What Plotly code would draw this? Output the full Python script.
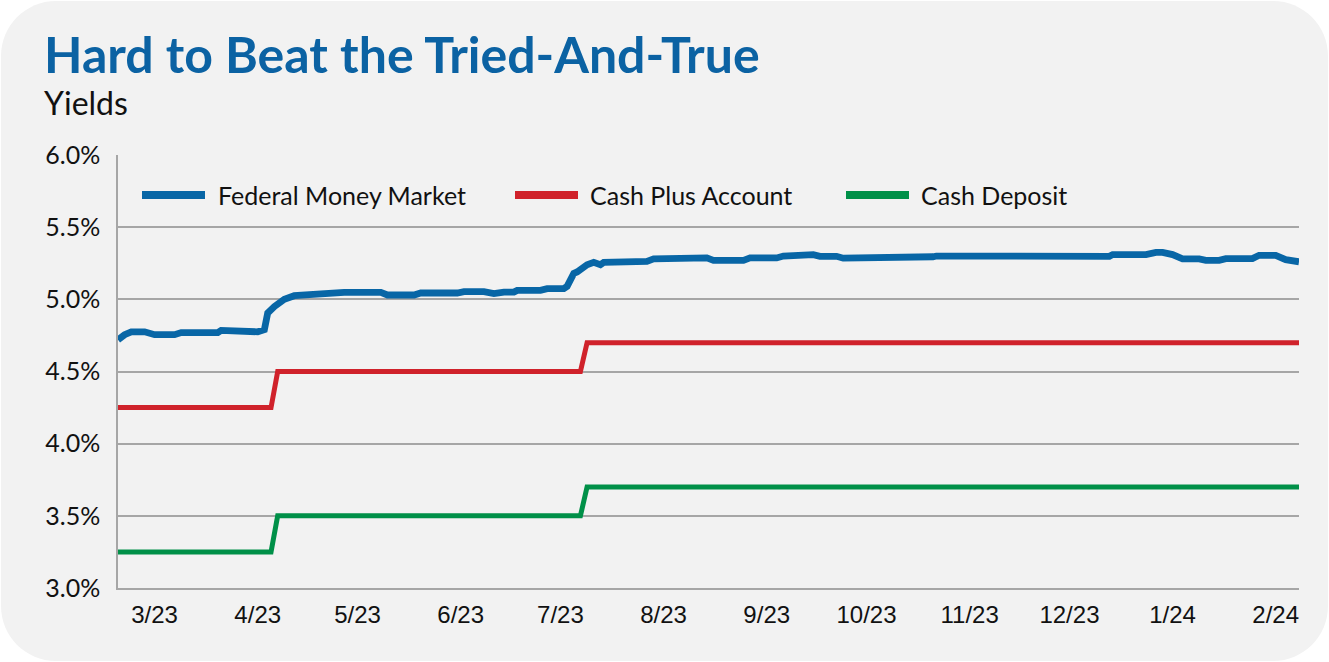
import plotly.graph_objects as go

# ---------------- data ----------------
fmm_dates = ["2023-02-18", "2023-02-20", "2023-02-22", "2023-02-26", "2023-03-01", "2023-03-07",
             "2023-03-09", "2023-03-20", "2023-03-21", "2023-03-27", "2023-03-28", "2023-04-01",
             "2023-04-03", "2023-04-04", "2023-04-06", "2023-04-09", "2023-04-12", "2023-04-14",
             "2023-04-20", "2023-04-23", "2023-04-26", "2023-04-27", "2023-05-08", "2023-05-10",
             "2023-05-18", "2023-05-20", "2023-05-31", "2023-06-02", "2023-06-08", "2023-06-11",
             "2023-06-14", "2023-06-17", "2023-06-18", "2023-06-25", "2023-06-27", "2023-07-02",
             "2023-07-03", "2023-07-05", "2023-07-06", "2023-07-09", "2023-07-11", "2023-07-13",
             "2023-07-14", "2023-07-19", "2023-07-21", "2023-07-27", "2023-07-29", "2023-08-05",
             "2023-08-07", "2023-08-14", "2023-08-16", "2023-08-25", "2023-08-27", "2023-09-04",
             "2023-09-06", "2023-09-12", "2023-09-15", "2023-09-17", "2023-09-22", "2023-09-24",
             "2023-10-06", "2023-10-07", "2023-10-21", "2023-10-22", "2023-11-02", "2023-11-03",
             "2023-11-09", "2023-11-11", "2023-11-29", "2023-12-01", "2023-12-13", "2023-12-14",
             "2023-12-24", "2023-12-27", "2023-12-29", "2024-01-01", "2024-01-04", "2024-01-09",
             "2024-01-11", "2024-01-15", "2024-01-17", "2024-01-25", "2024-01-27", "2024-02-01",
             "2024-02-04", "2024-02-08"]
fmm_values = [4.72, 4.755, 4.775, 4.775, 4.755, 4.755,
              4.77, 4.77, 4.785, 4.785, 4.775, 4.775,
              4.79, 4.905, 4.95, 5.00, 5.025, 5.028,
              5.028, 5.04, 5.04, 5.048, 5.048, 5.03,
              5.03, 5.044, 5.044, 5.053, 5.053, 5.04,
              5.05, 5.05, 5.062, 5.062, 5.074, 5.074,
              5.09, 5.18, 5.19, 5.24, 5.256, 5.24,
              5.256, 5.256, 5.263, 5.263, 5.28, 5.28,
              5.287, 5.287, 5.27, 5.27, 5.287, 5.287,
              5.30, 5.30, 5.31, 5.298, 5.298, 5.285,
              5.285, 5.295, 5.295, 5.30, 5.30, 5.295,
              5.295, 5.30, 5.305, 5.298, 5.298, 5.31,
              5.31, 5.325, 5.325, 5.31, 5.28, 5.28,
              5.27, 5.27, 5.282, 5.282, 5.305, 5.305,
              5.275, 5.26]

step_dates = ["2023-02-18", "2023-04-05", "2023-04-07", "2023-07-07", "2023-07-09", "2024-02-08"]
cash_plus_values = [4.25, 4.25, 4.50, 4.50, 4.70, 4.70]
cash_deposit_values = [3.25, 3.25, 3.50, 3.50, 3.70, 3.70]

series_names = ["Federal Money Market", "Cash Plus Account", "Cash Deposit"]
series_colors = ["#0866a6", "#d0222b", "#009048"]

x_tick_dates = ["2023-03-01", "2023-04-01", "2023-05-01", "2023-06-01", "2023-07-01", "2023-08-01",
                "2023-09-01", "2023-10-01", "2023-11-01", "2023-12-01", "2024-01-01", "2024-02-01"]
x_tick_labels = ["3/23", "4/23", "5/23", "6/23", "7/23", "8/23",
                 "9/23", "10/23", "11/23", "12/23", "1/24", "2/24"]
y_tick_values = [3.0, 3.5, 4.0, 4.5, 5.0, 5.5, 6.0]
y_tick_labels = ["3.0%", "3.5%", "4.0%", "4.5%", "5.0%", "5.5%", "6.0%"]

title_text = "Hard to Beat the Tried-And-True"
subtitle_text = "Yields"

# ---------------- layout geometry ----------------
W, H = 1329, 662
L, R, T, B = 118, 30, 155, 74
PW, PH = W - L - R, H - T - B


def px(x):
    return (x - L) / PW


def py(y):
    return (H - B - y) / PH


fig = go.Figure()
fig.add_trace(go.Scatter(x=fmm_dates, y=fmm_values, mode="lines", name=series_names[0],
                         line=dict(color=series_colors[0], width=6.8), showlegend=False))
fig.add_trace(go.Scatter(x=step_dates, y=cash_plus_values, mode="lines", name=series_names[1],
                         line=dict(color=series_colors[1], width=5), showlegend=False))
fig.add_trace(go.Scatter(x=step_dates, y=cash_deposit_values, mode="lines", name=series_names[2],
                         line=dict(color=series_colors[2], width=5), showlegend=False))

# rounded light-grey card background
x0, y0, x1, y1, r = 1, 1, W - 1, H - 1, 55
k = 0.5523 * r
pts = [
    ("M", [(x0 + r, y0)]),
    ("L", [(x1 - r, y0)]),
    ("C", [(x1 - r + k, y0), (x1, y0 + r - k), (x1, y0 + r)]),
    ("L", [(x1, y1 - r)]),
    ("C", [(x1, y1 - r + k), (x1 - r + k, y1), (x1 - r, y1)]),
    ("L", [(x0 + r, y1)]),
    ("C", [(x0 + r - k, y1), (x0, y1 - r + k), (x0, y1 - r)]),
    ("L", [(x0, y0 + r)]),
    ("C", [(x0, y0 + r - k), (x0 + r - k, y0), (x0 + r, y0)]),
]
path = ""
for cmd, ps in pts:
    path += cmd + " " + " ".join(f"{px(a):.5f},{py(b):.5f}" for a, b in ps) + " "
path += "Z"

shapes = [dict(type="path", path=path, xref="paper", yref="paper", layer="below",
               fillcolor="#f2f2f2", line=dict(width=0))]

annotations = [
    dict(text=title_text, x=px(42), y=py(54), xref="paper", yref="paper", xanchor="left",
         yanchor="middle", showarrow=False,
         font=dict(family="Lato", size=50, color="#0b62a3", weight="bold")),
    dict(text=subtitle_text, x=px(42), y=py(103), xref="paper", yref="paper", xanchor="left",
         yanchor="middle", showarrow=False,
         font=dict(family="Lato", size=32, color="#111111")),
]

# manual legend
legend_items = [(142, 205, 216), (515, 578, 588), (846, 909, 919)]
for (sx0, sx1, tx), name, color in zip(legend_items, series_names, series_colors):
    shapes.append(dict(type="line", xref="paper", yref="paper", x0=px(sx0), x1=px(sx1),
                       y0=py(195), y1=py(195), line=dict(color=color, width=8)))
    annotations.append(dict(text=name, x=px(tx), y=py(195), xref="paper", yref="paper",
                            xanchor="left", yanchor="middle", showarrow=False,
                            font=dict(family="Lato", size=25, color="#111111")))

fig.update_layout(
    width=W, height=H,
    margin=dict(l=L, r=R, t=T, b=B, pad=0),
    paper_bgcolor="white",
    plot_bgcolor="rgba(0,0,0,0)",
    shapes=shapes,
    annotations=annotations,
    showlegend=False,
)
fig.update_xaxes(
    type="date", range=["2023-02-18", "2024-02-08"],
    tickmode="array", tickvals=x_tick_dates, ticktext=x_tick_labels,
    showgrid=False, zeroline=False,
    showline=True, linecolor="#a6a6a6", linewidth=1.5,
    ticks="", ticklabelstandoff=4,
    tickfont=dict(family="Liberation Sans", size=24, color="#111111"),
)
fig.update_yaxes(
    range=[3.0, 6.0], tickmode="array", tickvals=y_tick_values, ticktext=y_tick_labels,
    showgrid=True, gridcolor="#a6a6a6", gridwidth=1.5, zeroline=False,
    showline=True, linecolor="#a6a6a6", linewidth=1.5,
    ticks="", ticklabelstandoff=11,
    tickfont=dict(family="Lato", size=25, color="#111111"),
)

fig.write_html("out.html", config={"displayModeBar": False},
               post_script="document.body.style.margin='0';")
